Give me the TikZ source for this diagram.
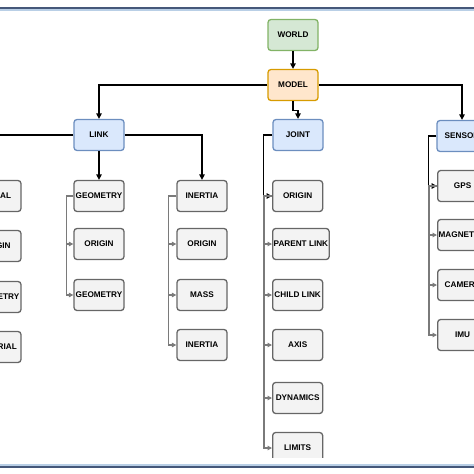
\documentclass[tikz,border=0pt]{standalone}
\usepackage{fontspec}
\setmainfont{Liberation Sans}
\usetikzlibrary{arrows.meta}

\definecolor{leaffill}{HTML}{F3F3F3}
\definecolor{leafdraw}{HTML}{666666}
\definecolor{bluefill}{HTML}{DAE8FC}
\definecolor{bluedraw}{HTML}{6C8EBF}
\definecolor{greenfill}{HTML}{D5E8D4}
\definecolor{greendraw}{HTML}{82B366}
\definecolor{orangefill}{HTML}{FFE6CC}
\definecolor{orangedraw}{HTML}{D79B00}
\definecolor{subgray}{HTML}{7A7A7A}
\definecolor{rulecol}{HTML}{45587A}
\definecolor{rulehalo}{HTML}{B9CFE6}

\tikzset{
  box/.style={draw=leafdraw, fill=leaffill, line width=1.3pt, rounded corners=3pt,
    minimum width=50pt, minimum height=31pt, inner xsep=1pt, inner ysep=1pt,
    font=\bfseries\fontsize{8.2}{9}\selectfont},
  bluebox/.style={box, draw=bluedraw, fill=bluefill},
  greenbox/.style={box, draw=greendraw, fill=greenfill},
  orangebox/.style={box, draw=orangedraw, fill=orangefill},
  edge/.style={line width=1.3pt, -{Triangle[length=5.5pt,width=5.5pt]}},
  subedge/.style={draw=subgray, line width=1.3pt, -{Triangle[length=4.5pt,width=4.5pt,fill=subgray]}},
}

\begin{document}
\begin{tikzpicture}[x=1pt,y=-1pt]
  \useasboundingbox (0,0) rectangle (474,474);
  \begin{scope}
  \clip (0,10) rectangle (474,457);
  % top of the tree
  \node[greenbox] (world) at (293,35) {WORLD};
  \node[orangebox] (model) at (293,85) {MODEL};
  \node[bluebox] (link) at (99,135) {LINK};
  \node[bluebox] (joint) at (298,135) {JOINT};
  \node[bluebox] (sensor) at (462,136) {SENSOR};
  % link children
  \foreach \n/\t/\y in {visual/VISUAL/196, vorigin/ORIGIN/246, vgeometry/GEOMETRY/297, vmaterial/MATERIAL/347}
    \node[box] (\n) at (-4,\y) {\t};
  \foreach \n/\t/\y in {geometry/GEOMETRY/196, gorigin/ORIGIN/244, ggeometry/GEOMETRY/295}
    \node[box] (\n) at (99,\y) {\t};
  \foreach \n/\t/\y in {inertial/INERTIA/196, iorigin/ORIGIN/244, imass/MASS/295, iinertia/INERTIA/345}
    \node[box] (\n) at (202,\y) {\t};
  % joint children
  \foreach \n/\t/\y in {jorigin/ORIGIN/196, jparent/PARENT LINK/244, jchild/CHILD LINK/295,
                        jaxis/AXIS/345, jdynamics/DYNAMICS/398, jlimits/LIMITS/448}
    \node[box, anchor=west] (\n) at (272,\y) {\t};
  % sensor children
  \foreach \n/\t/\y in {gps/GPS/186, magnet/MAGNETOMETER/235, camera/CAMERA/285, imu/IMU/335}
    \node[box, anchor=west] (\n) at (437,\y) {\t};

  \coordinate (vleft) at (-40,135);
  \draw[edge] (world) -- (model);
  \draw[edge] (model.west) -| (link.north);
  \draw[edge] (model.south) -- ++(0,9) -| (joint.north);
  \draw[edge] (model.east) -| (sensor.north);
  \draw[line width=1.3pt] (link.west) -- (vleft);
  \draw[edge] (link) -- (geometry);
  \draw[edge] (link.east) -| (inertial.north);
  \draw[edge] (joint.west) -- ++(-9,0) |- (jorigin.west);
  \draw[edge] (sensor.west) -- ++(-8,0) |- (gps.west);

  \foreach \n in {gorigin, ggeometry}
    \draw[subedge] (geometry.west) -- ++(-7,0) |- (\n.west);
  \foreach \n in {iorigin, imass, iinertia}
    \draw[subedge] (inertial.west) -- ++(-8,0) |- (\n.west);
  \foreach \n in {jparent, jchild, jaxis, jdynamics, jlimits}
    \draw[subedge] (jorigin.west) -- ++(-8,0) |- (\n.west);
  \foreach \n in {magnet, camera, imu}
    \draw[subedge] (gps.west) -- ++(-8,0) |- (\n.west);
  \end{scope}
  % frame rules
  \draw[rulehalo, line width=1.5pt] (0,9.8) -- (474,9.8);
  \draw[rulecol, line width=1.4pt] (0,8) -- (474,8);
  \draw[rulehalo, line width=2pt] (0,464.5) -- (474,464.5);
  \draw[rulecol, line width=1.8pt] (0,466.7) -- (474,466.7);
\end{tikzpicture}
\end{document}
